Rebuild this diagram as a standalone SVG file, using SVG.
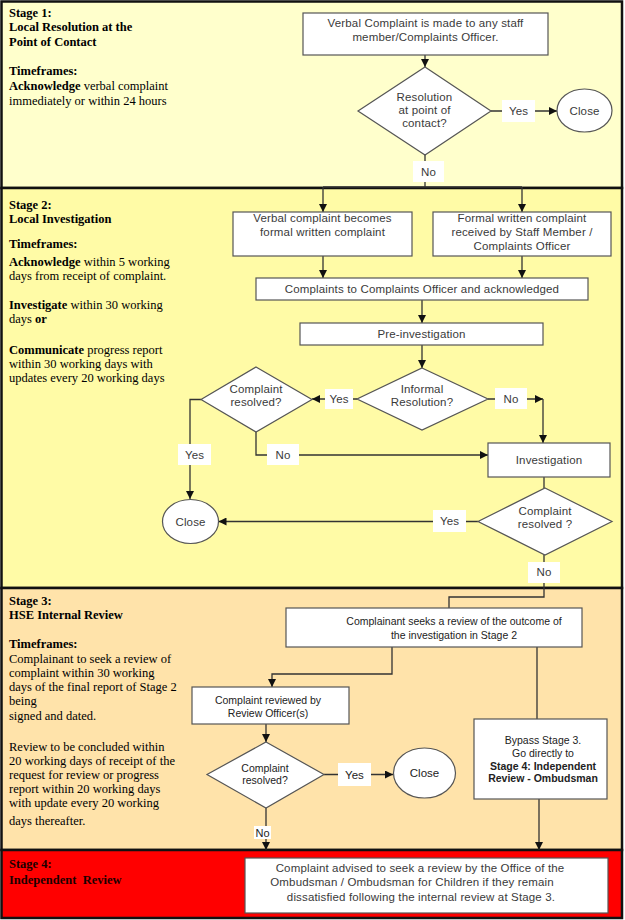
<svg xmlns="http://www.w3.org/2000/svg" width="625" height="920" viewBox="0 0 625 920">
<defs>
<marker id="arr" markerUnits="userSpaceOnUse" markerWidth="9" markerHeight="8" refX="8" refY="4" orient="auto">
<path d="M0,0 L8,4 L0,8 z" fill="#111"/>
</marker>
<style>
.st{stroke:#111;stroke-width:2.5}
.side{font-family:"Liberation Serif","Times New Roman",serif;font-size:12.5px;fill:#000}
.b{font-weight:bold}
.box{fill:#fff;stroke:#555;stroke-width:1.2}
.t{font-family:"Liberation Sans",Arial,sans-serif;font-size:11.5px;fill:#3a3a3a;text-anchor:middle;letter-spacing:0.15px}
.tn{font-family:"Liberation Sans",Arial,sans-serif;font-size:10.5px;fill:#222;text-anchor:middle}
.c{fill:none;stroke:#333;stroke-width:1.3}
.lbl{fill:#fff}
</style>
</defs>

<g id="stages">
<rect x="1.5" y="1.5" width="620.5" height="186.5" fill="#FFFFCC" class="st"/>
<rect x="1.5" y="188" width="620.5" height="400" fill="#FFFBA6" class="st"/>
<rect x="1.5" y="588" width="620.5" height="262" fill="#FFE3AA" class="st"/>
<rect x="1.5" y="850" width="620.5" height="68" fill="#FF0000" class="st"/>
</g>

<g id="stage1-text" class="side">
<text x="9" y="17" class="b">Stage 1:</text>
<text x="9" y="31" class="b">Local Resolution at the</text>
<text x="9" y="46" class="b">Point of Contact</text>
<text x="9" y="75" class="b">Timeframes:</text>
<text x="9" y="90"><tspan class="b">Acknowledge</tspan> verbal complaint</text>
<text x="9" y="105">immediately or within 24 hours</text>
</g>

<g id="stage2-text" class="side">
<text x="9" y="209" class="b">Stage 2:</text>
<text x="9" y="223" class="b">Local Investigation</text>
<text x="9" y="248" class="b">Timeframes:</text>
<text x="9" y="266"><tspan class="b">Acknowledge</tspan> within 5 working</text>
<text x="9" y="280">days from receipt of complaint.</text>
<text x="9" y="309"><tspan class="b">Investigate</tspan> within 30 working</text>
<text x="9" y="323">days <tspan class="b">or</tspan></text>
<text x="9" y="354"><tspan class="b">Communicate</tspan> progress report</text>
<text x="9" y="368">within 30 working days with</text>
<text x="9" y="382">updates every 20 working days</text>
</g>

<g id="stage3-text" class="side">
<text x="9" y="605" class="b">Stage 3:</text>
<text x="9" y="619" class="b">HSE Internal Review</text>
<text x="9" y="648" class="b">Timeframes:</text>
<text x="9" y="663">Complainant to seek a review of</text>
<text x="9" y="677">complaint within 30 working</text>
<text x="9" y="691">days of the final report of Stage 2</text>
<text x="9" y="705">being</text>
<text x="9" y="720">signed and dated.</text>
<text x="9" y="751">Review to be concluded within</text>
<text x="9" y="765">20 working days of receipt of the</text>
<text x="9" y="779">request for review or progress</text>
<text x="9" y="793">report within 20 working days</text>
<text x="9" y="807">with update every 20 working</text>
<text x="9" y="825">days thereafter.</text>
</g>

<g id="stage4-text" class="side" style="fill:#1a0000">
<text x="9" y="868" class="b">Stage 4:</text>
<text x="9" y="884" class="b" xml:space="preserve">Independent  Review</text>
</g>

<g id="connectors">
<path class="c" d="M425,55 V67" marker-end="url(#arr)"/>
<path class="c" d="M491,111 H557" marker-end="url(#arr)"/>
<path class="c" d="M425,155 V187 M323,187 H522"/>
<path class="c" d="M323,187 V212" marker-end="url(#arr)"/>
<path class="c" d="M522,187 V212" marker-end="url(#arr)"/>
<path class="c" d="M323,256 V278" marker-end="url(#arr)"/>
<path class="c" d="M522,256 V278" marker-end="url(#arr)"/>
<path class="c" d="M422,300 V323" marker-end="url(#arr)"/>
<path class="c" d="M422,345 V368" marker-end="url(#arr)"/>
<path class="c" d="M357,399 H312" marker-end="url(#arr)"/>
<path class="c" d="M201,399.5 H190 V499" marker-end="url(#arr)"/>
<path class="c" d="M256,432 V455 H488" marker-end="url(#arr)"/>
<path class="c" d="M488,399 H543" marker-end="url(#arr)"/>
<path class="c" d="M543,399 V443" marker-end="url(#arr)"/>
<path class="c" d="M544,477 V488"/>
<path class="c" d="M478,521.5 H218.5" marker-end="url(#arr)"/>
<path class="c" d="M544,555 V597 H449 V608"/>
<path class="c" d="M392,647 V674 H272 V687" marker-end="url(#arr)"/>
<path class="c" d="M266,724 V742" marker-end="url(#arr)"/>
<path class="c" d="M324,774.5 H393" marker-end="url(#arr)"/>
<path class="c" d="M266,808 V850" marker-end="url(#arr)"/>
<path class="c" d="M537,647 V719"/>
<path class="c" d="M539,799 V850" marker-end="url(#arr)"/>
<g id="labels">
<rect class="lbl" x="502" y="100" width="33" height="22"/><text class="t" x="518.5" y="115">Yes</text>
<rect class="lbl" x="413" y="161" width="31" height="21"/><text class="t" x="428.5" y="175.5">No</text>
<rect class="lbl" x="325" y="389" width="28" height="20"/><text class="t" x="339" y="403">Yes</text>
<rect class="lbl" x="178" y="444" width="33" height="21"/><text class="t" x="194.5" y="459">Yes</text>
<rect class="lbl" x="267" y="444" width="32" height="21"/><text class="t" x="283" y="459">No</text>
<rect class="lbl" x="495" y="388" width="32" height="21"/><text class="t" x="511" y="403">No</text>
<rect class="lbl" x="433" y="510" width="33" height="22"/><text class="t" x="449.5" y="525">Yes</text>
<rect class="lbl" x="528" y="562" width="32" height="21"/><text class="t" x="544" y="576">No</text>
<rect class="lbl" x="338" y="763" width="33" height="23"/><text class="tn" x="354.5" y="779" style="font-size:11.5px">Yes</text>
<rect class="lbl" x="254" y="826" width="17" height="13"/><text class="tn" x="262.5" y="837" style="font-size:11px">No</text>
</g>
</g>

<g id="n-verbal">
<rect class="box" x="303" y="13" width="245" height="42"/>
<text class="t" x="425.5" y="27">Verbal Complaint is made to any staff</text>
<text class="t" x="425.5" y="41">member/Complaints Officer.</text>
</g>
<g id="d-resolution">
<polygon class="box" points="425,67 491,111 425,155 358,111"/>
<text class="t" x="424.5" y="101">Resolution</text>
<text class="t" x="424.5" y="114">at point of</text>
<text class="t" x="424.5" y="127">contact?</text>
</g>
<g id="close1">
<ellipse class="box" cx="584.5" cy="110.5" rx="27.5" ry="21.5"/>
<text class="t" x="584.5" y="114.5">Close</text>
</g>

<g id="n-verbal-formal">
<rect class="box" x="233" y="212" width="179" height="44"/>
<text class="t" x="322.5" y="222">Verbal complaint becomes</text>
<text class="t" x="322.5" y="236">formal written complaint</text>
</g>
<g id="n-formal-written">
<rect class="box" x="433" y="212" width="178" height="44"/>
<text class="t" x="522" y="222">Formal written complaint</text>
<text class="t" x="522" y="236">received by Staff Member /</text>
<text class="t" x="522" y="250">Complaints Officer</text>
</g>
<g id="n-acknowledged">
<rect class="box" x="256" y="278" width="332" height="22"/>
<text class="t" x="422" y="293">Complaints to Complaints Officer and acknowledged</text>
</g>
<g id="n-preinvestigation">
<rect class="box" x="300" y="323" width="243" height="22"/>
<text class="t" x="421.5" y="338">Pre-investigation</text>
</g>
<g id="d-informal">
<polygon class="box" points="422,368 488,399 422,430 357,399"/>
<text class="t" x="422" y="393">Informal</text>
<text class="t" x="422" y="406">Resolution?</text>
</g>
<g id="d-resolved-a">
<polygon class="box" points="256,367 312,399.5 256,432 201,399.5"/>
<text class="t" x="256" y="393">Complaint</text>
<text class="t" x="256" y="406">resolved?</text>
</g>
<g id="n-investigation">
<rect class="box" x="488" y="443" width="122" height="34"/>
<text class="t" x="549" y="464">Investigation</text>
</g>
<g id="d-resolved-b">
<polygon class="box" points="545,488 612,521.5 545,555 478,521.5"/>
<text class="t" x="545" y="515">Complaint</text>
<text class="t" x="545" y="528">resolved ?</text>
</g>
<g id="close2">
<ellipse class="box" cx="190.5" cy="521.5" rx="28" ry="22"/>
<text class="t" x="190.5" y="525.5">Close</text>
</g>

<g id="n-seek-review">
<rect class="box" x="286" y="608" width="296" height="39"/>
<text class="tn" x="454" y="625">Complainant seeks a review of the outcome of</text>
<text class="tn" x="454" y="639">the investigation in Stage 2</text>
</g>
<g id="n-reviewed">
<rect class="box" x="192" y="687" width="157" height="37"/>
<text class="tn" x="268" y="704">Complaint reviewed by</text>
<text class="tn" x="268" y="717">Review Officer(s)</text>
</g>
<g id="d-resolved-c">
<polygon class="box" points="266,742 324,774.5 266,808 207,774.5"/>
<text class="tn" x="265" y="771.5">Complaint</text>
<text class="tn" x="265" y="783.5">resolved?</text>
</g>
<g id="close3">
<ellipse class="box" cx="424.5" cy="773" rx="31" ry="25"/>
<text class="tn" x="424.5" y="777" style="font-size:11.5px">Close</text>
</g>
<g id="n-bypass">
<rect class="box" x="474" y="719" width="133" height="80"/>
<text class="tn" x="543" y="744">Bypass Stage 3.</text>
<text class="tn" x="543" y="757">Go directly to</text>
<text class="tn b" x="543" y="770">Stage 4: Independent</text>
<text class="tn b" x="543" y="782">Review - Ombudsman</text>
</g>

<g id="n-ombudsman">
<rect class="box" x="245" y="858" width="363" height="55"/>
<text class="t" x="420" y="872">Complaint advised to seek a review by the Office of the</text>
<text class="t" x="412" y="886">Ombudsman / Ombudsman for Children if they remain</text>
<text class="t" x="421" y="901">dissatisfied following the internal review at Stage 3.</text>
</g>
</svg>
